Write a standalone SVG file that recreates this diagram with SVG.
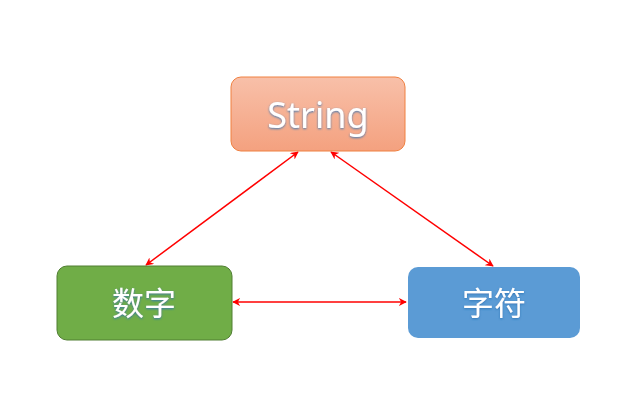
<svg xmlns="http://www.w3.org/2000/svg" width="640" height="418" viewBox="0 0 640 418">
<defs>
<linearGradient id="og" x1="0" y1="0" x2="0" y2="1"><stop offset="0" stop-color="#f8c0a9"/><stop offset="1" stop-color="#f4a17f"/></linearGradient>
<marker id="a" viewBox="0 0 10 10" refX="9" refY="5" markerWidth="8" markerHeight="8" orient="auto-start-reverse" markerUnits="userSpaceOnUse"><path d="M0,0 L10,5 L0,10 L3,5 z" fill="#ff0000"/></marker>
<filter id="sh" x="-10%" y="-10%" width="120%" height="130%"><feDropShadow dx="0" dy="1" stdDeviation="1" flood-color="#2e75b6" flood-opacity="0.9"/></filter>
</defs>
<style>
.t{font-family:"Noto Sans","Noto Sans CJK SC",sans-serif;fill:#fff;text-anchor:middle;filter:url(#sh)}
.c{stroke:#ff0000;stroke-width:1.5;fill:none;marker-start:url(#a);marker-end:url(#a)}
</style>
<rect width="640" height="418" fill="#fff"/>
<g id="connectors">
<line class="c" x1="298" y1="152" x2="146" y2="265"/>
<line class="c" x1="331" y1="152" x2="493" y2="266"/>
<line class="c" x1="233" y1="302" x2="406" y2="302"/>
</g>
<g id="string">
<rect x="231" y="77" width="174" height="74" rx="10" fill="url(#og)" stroke="#f08040" stroke-width="1"/>
<text class="t" x="318" y="128" font-size="36">String</text>
</g>
<g id="shuzi">
<rect x="57" y="266" width="175" height="74" rx="10" fill="#70ad47" stroke="#507e32" stroke-width="1"/>
<text class="t" x="144" y="315" font-size="32">数字</text>
</g>
<g id="zifu">
<rect x="408" y="267" width="172" height="71" rx="10" fill="#5b9bd5"/>
<text class="t" x="494" y="315" font-size="32">字符</text>
</g>
</svg>
